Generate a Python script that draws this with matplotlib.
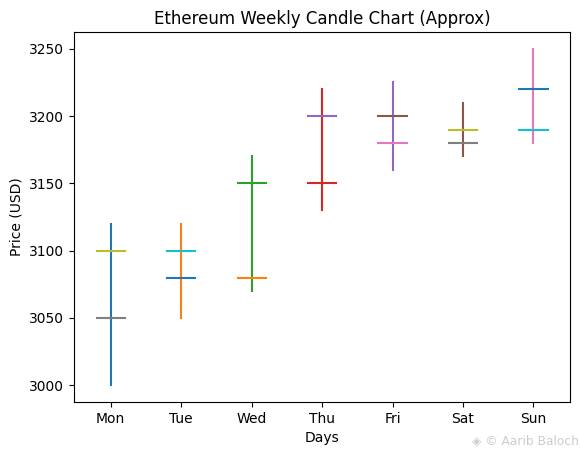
import matplotlib
matplotlib.use('Agg')
import matplotlib.pyplot as plt

# Approximate weekly ETH prices
days = ['Mon', 'Tue', 'Wed', 'Thu', 'Fri', 'Sat', 'Sun']
open_prices = [3050, 3100, 3080, 3150, 3200, 3180, 3190]
close_prices = [3100, 3080, 3150, 3200, 3180, 3190, 3220]
low_prices = [3000, 3050, 3070, 3130, 3160, 3170, 3180]
high_prices = [3120, 3120, 3170, 3220, 3225, 3210, 3250]

fig = plt.figure(figsize=(5.8, 4.55), dpi=100)
ax = fig.add_axes([0.1276, 0.1165, 0.8554, 0.8132])

x = list(range(len(days)))

# wicks (one line per day, default colour cycle)
ax.plot([x, x], [low_prices, high_prices])

# open / close ticks
for i in x:
    ax.plot([i - 0.2, i + 0.2], [open_prices[i], open_prices[i]])
    ax.plot([i - 0.2, i + 0.2], [close_prices[i], close_prices[i]])

ax.set_xticks(x)
ax.set_xticklabels(days)
ax.set_title('Ethereum Weekly Candle Chart (Approx)')
ax.set_xlabel('Days')
ax.set_ylabel('Price (USD)')

# watermark, runs off the right edge like the original
fig.text(0.813, 0.024, '◈ © Aarib Baloch', color='#cccccc', fontsize=8.8,
         family=['DejaVu Sans', 'Noto Sans'])

fig.savefig('out.png', dpi=100)
